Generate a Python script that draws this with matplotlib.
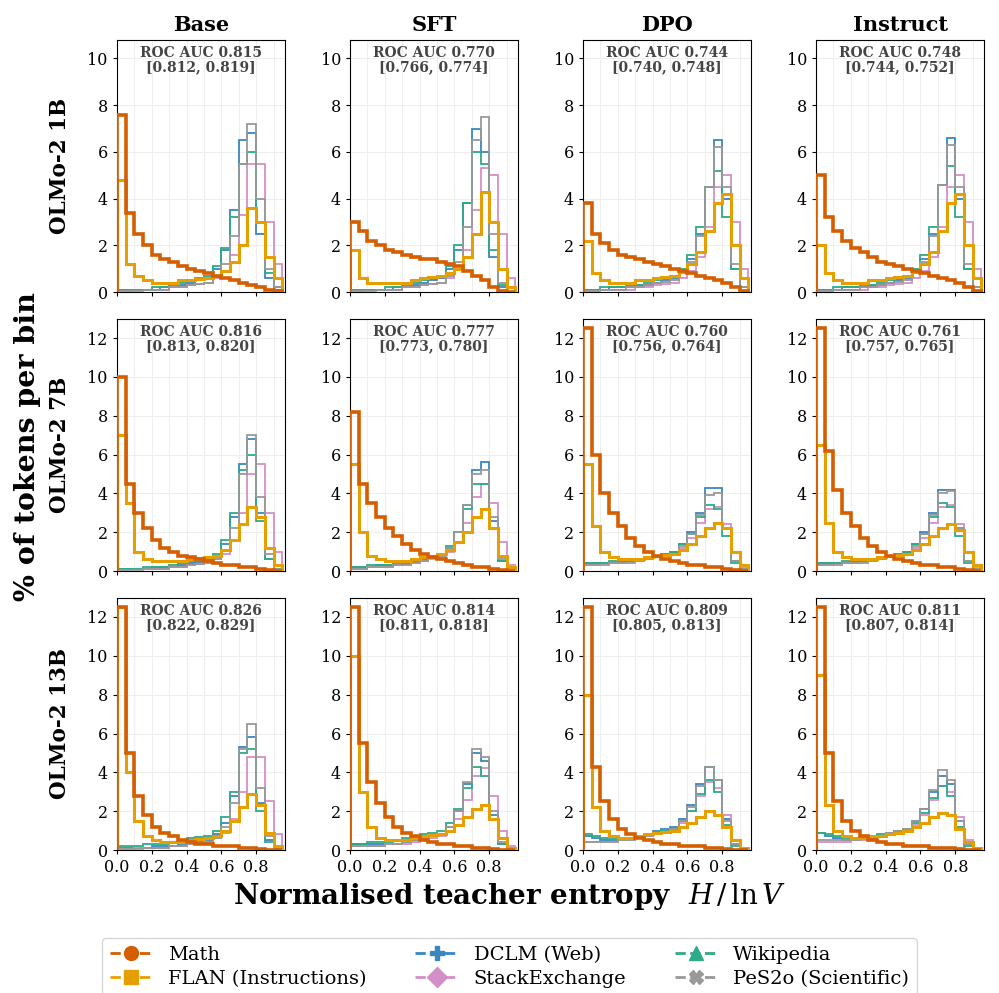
import numpy as np
import matplotlib
matplotlib.use("Agg")
import matplotlib.pyplot as plt
from matplotlib.lines import Line2D

plt.rcParams['font.family'] = ['DejaVu Serif']
plt.rcParams['mathtext.fontset'] = 'dejavuserif'

models = ["OLMo-2 1B", "OLMo-2 7B", "OLMo-2 13B"]
stages = ["Base", "SFT", "DPO", "Instruct"]
auc = [["0.815", "0.770", "0.744", "0.748"],
       ["0.816", "0.777", "0.760", "0.761"],
       ["0.826", "0.814", "0.809", "0.811"]]
ci = [["[0.812, 0.819]", "[0.766, 0.774]", "[0.740, 0.748]", "[0.744, 0.752]"],
      ["[0.813, 0.820]", "[0.773, 0.780]", "[0.756, 0.764]", "[0.757, 0.765]"],
      ["[0.822, 0.829]", "[0.811, 0.818]", "[0.805, 0.813]", "[0.807, 0.814]"]]
bin_edges = np.round(np.arange(0, 0.951, 0.05), 3)

# % of tokens per bin, panels in row-major order (1B Base, 1B SFT, ... 13B Instruct)
math_vals = [
 [7.6,3.4,2.5,2.0,1.6,1.4,1.3,1.1,1.0,0.9,0.8,0.7,0.6,0.5,0.4,0.3,0.2,0.1,0.05],
 [3.0,2.6,2.2,2.0,1.8,1.7,1.6,1.5,1.4,1.4,1.3,1.2,1.1,0.9,0.7,0.5,0.2,0.05,0],
 [3.8,2.5,2.1,1.8,1.6,1.5,1.4,1.3,1.2,1.1,1.0,0.9,0.8,0.7,0.6,0.5,0.4,0.2,0.05],
 [5.0,3.2,2.6,2.2,1.9,1.7,1.5,1.3,1.2,1.1,1.0,0.9,0.8,0.7,0.6,0.5,0.4,0.2,0.05],
 [10,4.5,3.0,2.2,1.6,1.2,1.0,0.8,0.7,0.6,0.5,0.4,0.3,0.3,0.2,0.2,0.1,0.05,0],
 [8.2,4.5,3.5,2.8,2.2,1.8,1.4,1.1,0.9,0.7,0.6,0.5,0.4,0.3,0.2,0.2,0.1,0.05,0],
 [12.5,6,4,3,2.3,1.7,1.3,1.0,0.8,0.6,0.5,0.4,0.3,0.3,0.2,0.2,0.1,0.05,0],
 [12.5,6.2,4.2,3.0,2.3,1.7,1.3,1.0,0.8,0.6,0.5,0.4,0.3,0.3,0.2,0.2,0.1,0.05,0],
 [12.5,5.0,2.8,1.8,1.2,0.9,0.7,0.5,0.4,0.3,0.3,0.2,0.2,0.2,0.1,0.1,0.05,0,0],
 [12.5,5.5,3.5,2.4,1.7,1.2,0.9,0.7,0.5,0.4,0.3,0.3,0.2,0.2,0.1,0.1,0.05,0,0],
 [12.5,4.3,2.5,1.6,1.1,0.8,0.6,0.5,0.4,0.3,0.3,0.2,0.2,0.2,0.1,0.1,0.05,0,0],
 [12.5,5.0,2.5,1.5,1.0,0.7,0.5,0.4,0.3,0.3,0.2,0.2,0.2,0.1,0.1,0.1,0.05,0,0],
]
flan_vals = [
 [4.8,1.2,0.7,0.5,0.4,0.4,0.4,0.5,0.5,0.55,0.6,0.7,0.9,1.3,2.0,3.6,3.0,1.5,0.6],
 [1.8,0.6,0.4,0.4,0.4,0.4,0.4,0.5,0.6,0.65,0.7,0.8,1.0,1.5,2.5,4.3,3.0,1.0,0.2],
 [2.2,0.8,0.5,0.4,0.4,0.4,0.5,0.5,0.6,0.65,0.7,0.9,1.2,1.7,2.6,3.8,4.2,2.0,0.6],
 [2.0,0.8,0.5,0.4,0.4,0.4,0.5,0.5,0.6,0.65,0.7,0.9,1.2,1.7,2.6,3.8,4.2,2.0,0.6],
 [7.0,3.5,1.0,0.6,0.5,0.5,0.5,0.5,0.6,0.65,0.7,0.8,1.1,1.6,2.4,3.3,2.8,1.2,0.3],
 [5.5,2.0,0.8,0.6,0.5,0.5,0.5,0.6,0.7,0.8,0.9,1.1,1.5,2.0,2.8,3.2,2.2,0.8,0.2],
 [5.5,2.3,1.0,0.7,0.6,0.6,0.6,0.7,0.8,0.85,0.9,1.1,1.4,1.8,2.2,2.5,2.2,1.0,0.3],
 [6.5,2.5,1.0,0.7,0.6,0.6,0.6,0.7,0.8,0.85,0.9,1.1,1.4,1.8,2.2,2.4,2.1,1.0,0.3],
 [12.5,4.0,1.5,0.7,0.5,0.4,0.4,0.4,0.5,0.55,0.6,0.7,1.0,1.5,2.2,2.9,2.3,0.9,0.2],
 [10,3.0,1.2,0.6,0.5,0.5,0.5,0.6,0.7,0.75,0.8,1.0,1.3,1.7,2.1,2.3,1.6,0.6,0.1],
 [8,2.2,1.0,0.7,0.6,0.6,0.7,0.8,0.9,0.95,1.0,1.2,1.4,1.7,2.0,1.8,1.2,0.5,0.1],
 [9,2.3,1.0,0.7,0.6,0.6,0.7,0.7,0.8,0.9,1.0,1.2,1.4,1.7,1.9,1.8,1.1,0.4,0.1],
]
dclm_vals = [
 [0.1,0.1,0.1,0.1,0.1,0.2,0.2,0.3,0.4,0.5,0.6,1.0,1.8,3.5,6.5,6.8,2.5,0.6,0.1],
 [0.1,0.1,0.1,0.1,0.1,0.2,0.2,0.3,0.4,0.5,0.6,1.0,1.8,3.8,7.0,6.0,1.5,0.2,0],
 [0.1,0.1,0.1,0.2,0.2,0.2,0.3,0.3,0.4,0.5,0.6,0.9,1.4,2.5,4.5,6.5,4.0,1.0,0.2],
 [0.1,0.1,0.1,0.2,0.2,0.2,0.3,0.3,0.4,0.5,0.6,0.9,1.4,2.5,4.6,6.6,4.0,1.0,0.2],
 [0.1,0.1,0.1,0.1,0.2,0.2,0.2,0.3,0.4,0.45,0.5,0.8,1.4,2.8,5.5,6.8,3.0,0.6,0.1],
 [0.2,0.2,0.2,0.3,0.3,0.3,0.4,0.5,0.6,0.7,0.8,1.2,2.0,3.4,5.2,5.6,2.6,0.5,0.1],
 [0.4,0.4,0.4,0.4,0.5,0.5,0.6,0.7,0.8,0.9,1.0,1.4,2.0,3.0,4.3,4.3,2.2,0.5,0.1],
 [0.4,0.4,0.4,0.4,0.5,0.5,0.6,0.7,0.8,0.9,1.0,1.4,2.0,3.0,4.2,4.2,2.2,0.5,0.1],
 [0.1,0.1,0.1,0.1,0.2,0.2,0.2,0.3,0.4,0.45,0.5,0.8,1.4,2.8,5.3,5.8,2.4,0.5,0.1],
 [0.3,0.3,0.3,0.3,0.3,0.3,0.4,0.5,0.6,0.7,0.8,1.2,2.0,3.4,5.0,4.6,1.8,0.3,0],
 [0.7,0.6,0.5,0.5,0.5,0.6,0.7,0.8,1.0,1.1,1.2,1.6,2.3,3.4,4.3,3.6,1.6,0.3,0],
 [0.9,0.7,0.6,0.5,0.5,0.6,0.6,0.7,0.9,1.0,1.1,1.5,2.1,3.0,3.8,3.4,1.5,0.3,0],
]
stack_vals = [
 [0.05,0.05,0.1,0.1,0.1,0.1,0.2,0.2,0.3,0.35,0.4,0.6,0.9,1.6,3.3,5.5,5.5,3.0,1.2],
 [0.05,0.05,0.1,0.1,0.1,0.1,0.2,0.2,0.3,0.35,0.4,0.6,1.0,1.8,3.5,5.3,5.0,2.5,0.6],
 [0.05,0.05,0.1,0.1,0.1,0.1,0.2,0.2,0.3,0.35,0.4,0.6,0.9,1.5,2.8,4.5,5.0,3.0,1.0],
 [0.05,0.05,0.1,0.1,0.1,0.1,0.2,0.2,0.3,0.35,0.4,0.6,0.9,1.5,2.8,4.5,5.0,3.0,1.0],
 [0.05,0.05,0.1,0.1,0.1,0.1,0.2,0.2,0.3,0.35,0.4,0.6,0.9,1.6,3.0,5.0,5.5,3.0,1.0],
 [0.1,0.1,0.2,0.2,0.2,0.3,0.3,0.4,0.5,0.6,0.7,1.0,1.5,2.5,3.8,4.5,3.5,1.5,0.3],
 [0.3,0.3,0.4,0.4,0.4,0.5,0.5,0.6,0.7,0.8,0.9,1.2,1.7,2.5,3.2,3.3,2.4,1.0,0.2],
 [0.3,0.3,0.4,0.4,0.4,0.5,0.5,0.6,0.7,0.8,0.9,1.2,1.7,2.5,3.3,3.4,2.4,1.0,0.2],
 [0.05,0.05,0.1,0.1,0.1,0.1,0.2,0.2,0.3,0.35,0.4,0.6,0.9,1.6,3.0,4.8,4.8,2.5,0.8],
 [0.2,0.2,0.2,0.2,0.3,0.3,0.3,0.4,0.5,0.6,0.7,1.0,1.6,2.6,3.8,4.2,2.8,1.0,0.2],
 [0.4,0.4,0.4,0.4,0.5,0.5,0.6,0.7,0.8,0.9,1.0,1.4,2.0,2.8,3.5,3.2,1.8,0.5,0.1],
 [0.4,0.4,0.4,0.4,0.5,0.5,0.6,0.7,0.8,0.9,1.0,1.3,1.8,2.6,3.3,3.0,1.7,0.5,0.1],
]
wiki_vals = [
 [0.1,0.1,0.1,0.1,0.2,0.2,0.3,0.4,0.5,0.6,0.7,1.1,1.9,3.2,5.5,6.0,3.0,0.8,0.2],
 [0.1,0.1,0.1,0.1,0.2,0.2,0.3,0.4,0.5,0.6,0.7,1.1,2.0,3.8,6.0,5.5,1.8,0.3,0],
 [0.1,0.1,0.2,0.2,0.2,0.3,0.3,0.4,0.5,0.6,0.7,1.0,1.6,2.8,4.5,5.2,3.2,1.0,0.2],
 [0.1,0.1,0.2,0.2,0.2,0.3,0.3,0.4,0.5,0.6,0.7,1.0,1.6,2.8,4.6,5.4,3.2,1.0,0.2],
 [0.1,0.1,0.1,0.2,0.2,0.2,0.3,0.4,0.5,0.55,0.6,0.9,1.6,3.0,5.2,6.0,2.6,0.6,0.1],
 [0.2,0.2,0.3,0.3,0.3,0.4,0.5,0.6,0.7,0.8,0.9,1.3,2.0,3.2,4.5,4.5,2.2,0.5,0.1],
 [0.4,0.4,0.4,0.5,0.5,0.5,0.6,0.7,0.8,0.9,1.0,1.4,1.9,2.8,3.4,3.2,1.8,0.4,0.1],
 [0.4,0.4,0.4,0.5,0.5,0.5,0.6,0.7,0.8,0.9,1.0,1.4,1.9,2.8,3.5,3.3,1.8,0.4,0.1],
 [0.2,0.2,0.2,0.3,0.3,0.3,0.4,0.5,0.6,0.65,0.7,1.0,1.7,3.0,5.0,5.2,2.0,0.4,0.1],
 [0.3,0.3,0.4,0.4,0.4,0.5,0.6,0.7,0.8,0.9,1.0,1.4,2.1,3.2,4.3,3.8,1.6,0.3,0],
 [0.8,0.7,0.6,0.6,0.6,0.6,0.7,0.8,0.9,1.0,1.1,1.5,2.0,2.9,3.6,3.0,1.3,0.2,0],
 [0.9,0.8,0.7,0.6,0.6,0.6,0.7,0.8,0.9,1.0,1.1,1.4,1.9,2.7,3.3,2.8,1.2,0.2,0],
]
pes2o_vals = [
 [0.05,0.05,0.05,0.1,0.1,0.1,0.2,0.2,0.3,0.35,0.4,0.7,1.2,2.4,5.5,7.2,4.0,1.0,0.2],
 [0.05,0.05,0.05,0.1,0.1,0.1,0.2,0.2,0.3,0.35,0.4,0.7,1.3,2.8,6.5,7.5,2.5,0.4,0],
 [0.05,0.05,0.1,0.1,0.1,0.2,0.2,0.3,0.4,0.45,0.5,0.8,1.3,2.4,4.5,6.2,4.5,1.2,0.2],
 [0.05,0.05,0.1,0.1,0.1,0.2,0.2,0.3,0.4,0.45,0.5,0.8,1.3,2.4,4.6,6.3,4.5,1.2,0.2],
 [0.05,0.05,0.05,0.1,0.1,0.1,0.2,0.2,0.3,0.35,0.4,0.6,1.1,2.2,5.0,7.0,3.8,0.9,0.1],
 [0.1,0.1,0.2,0.2,0.2,0.3,0.3,0.4,0.5,0.65,0.8,1.2,2.0,3.4,5.0,5.2,2.8,0.6,0.1],
 [0.3,0.3,0.3,0.4,0.4,0.4,0.5,0.6,0.7,0.8,0.9,1.3,1.9,2.9,3.9,4.0,2.2,0.5,0.1],
 [0.3,0.3,0.3,0.4,0.4,0.4,0.5,0.6,0.7,0.8,0.9,1.3,1.9,2.9,4.0,4.1,2.2,0.5,0.1],
 [0.05,0.05,0.05,0.1,0.1,0.1,0.2,0.2,0.3,0.35,0.4,0.6,1.2,2.4,5.2,6.5,3.2,0.7,0.1],
 [0.2,0.2,0.2,0.2,0.3,0.3,0.4,0.5,0.6,0.7,0.8,1.2,2.0,3.5,5.2,4.8,2.0,0.4,0],
 [0.4,0.4,0.4,0.4,0.5,0.5,0.6,0.7,0.8,0.95,1.1,1.5,2.2,3.3,4.3,3.6,1.5,0.3,0],
 [0.5,0.5,0.5,0.5,0.5,0.6,0.6,0.7,0.9,1.0,1.1,1.5,2.1,3.1,4.1,3.6,1.5,0.3,0],
]

series = [
    ("Math", math_vals, "#d55e00", "o", 2.6),
    ("FLAN (Instructions)", flan_vals, "#e69f00", "s", 2.2),
    ("DCLM (Web)", dclm_vals, "#3a87c0", "P", 1.3),
    ("StackExchange", stack_vals, "#d48fc8", "D", 1.3),
    ("Wikipedia", wiki_vals, "#2eaa8a", "^", 1.3),
    ("PeS2o (Scientific)", pes2o_vals, "#999999", "X", 1.3),
]
draw_order = [2, 3, 4, 5, 1, 0]

fig = plt.figure(figsize=(9.99, 9.93), dpi=100)
gs = fig.add_gridspec(3, 4, left=0.117, right=0.985, top=0.960, bottom=0.144,
                      wspace=0.387, hspace=0.105)
for r in range(3):
    for c in range(4):
        ax = fig.add_subplot(gs[r, c])
        k = r * 4 + c
        for i in draw_order:
            name, vals, col, mk, lw = series[i]
            ax.stairs(vals[k], bin_edges, color=col, lw=lw, zorder=3 + (i < 2))
        ax.set_xlim(0, 0.965)
        if r == 0:
            ax.set_ylim(0, 10.8)
            ax.set_yticks([0, 2, 4, 6, 8, 10])
            ax.set_title(stages[c], fontsize=15, fontweight='bold', pad=6)
        else:
            ax.set_ylim(0, 13.0)
            ax.set_yticks([0, 2, 4, 6, 8, 10, 12])
        ax.set_xticks([0, 0.2, 0.4, 0.6, 0.8])
        ax.set_xticks([0.1, 0.3, 0.5, 0.7, 0.9], minor=True)
        ax.tick_params(which='minor', length=0)
        ax.grid(True, which='both', color='#eeeeee', lw=0.8, zorder=0)
        ax.tick_params(labelsize=11.5, length=3)
        if r < 2:
            ax.set_xticklabels([])
        else:
            ax.set_xticklabels(["0.0", "0.2", "0.4", "0.6", "0.8"])
        ax.text(0.5, 0.975, f"ROC AUC {auc[r][c]}\n{ci[r][c]}", transform=ax.transAxes,
                ha='center', va='top', fontsize=10, fontweight='bold', color='#444444',
                linespacing=1.0, zorder=6)
        if c == 0:
            ax.text(-0.34, 0.5, models[r], transform=ax.transAxes, rotation=90,
                    ha='center', va='center', fontsize=15.5, fontweight='bold')

fig.text(0.028, 0.55, "% of tokens per bin", rotation=90, ha='center', va='center',
         fontsize=20.5, fontweight='bold')
fig.text(0.51, 0.097, r"Normalised teacher entropy  $H\,/\,\ln V$", ha='center', va='center',
         fontsize=20, fontweight='bold')

handles = [Line2D([0], [0], color=s[2], marker=s[3], ls='--', lw=2, markersize=10,
                  label=s[0]) for s in series]
fig.legend(handles=handles, loc='upper center', bbox_to_anchor=(0.51, 0.055), ncol=3,
           fontsize=14, frameon=True, handlelength=2.2, columnspacing=2.5,
           borderaxespad=0, labelspacing=0.3)

fig.savefig("out.png", dpi=100)
